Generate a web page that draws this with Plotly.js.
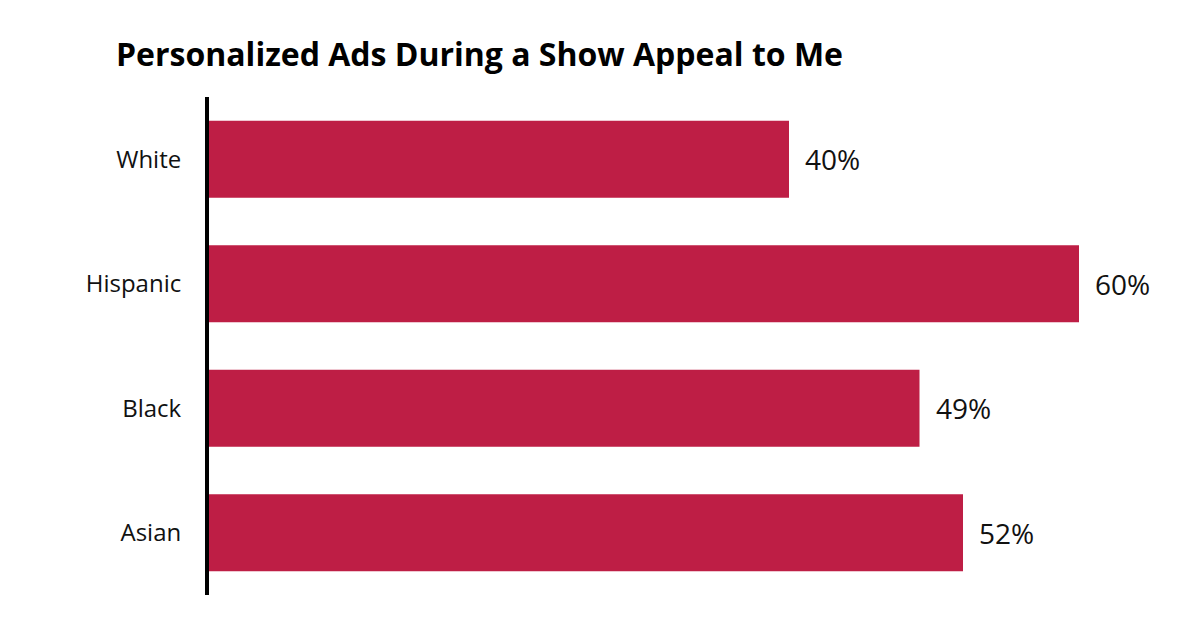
<!DOCTYPE html>
<html>
<head>
<meta charset="utf-8">
<script src="https://cdn.plot.ly/plotly-3.0.1.min.js"></script>
<style>html,body{margin:0;padding:0;background:#fff;}#chart{width:1200px;height:628px;}</style>
</head>
<body>
<div id="chart"></div>
<script>
var categories = ["White", "Hispanic", "Black", "Asian"];
var values = [40, 60, 49, 52];
var valueLabels = ["40%", "60%", "49%", "52%"];
var chartTitle = "Personalized Ads During a Show Appeal to Me";

var FONT = "Open Sans, Noto Sans, sans-serif";

var trace = {
  type: "bar",
  orientation: "h",
  y: categories,
  x: values,
  marker: {color: "#BE1E45"},
  hoverinfo: "skip"
};

var annotations = categories.map(function(c, i){
  return {
    x: values[i], y: c, xref: "x", yref: "y",
    text: valueLabels[i], showarrow: false,
    xanchor: "left", yanchor: "middle", xshift: 14,
    font: {family: FONT, size: 28, color: "#111111"}
  };
});

var layout = {
  width: 1200, height: 628,
  paper_bgcolor: "#ffffff", plot_bgcolor: "#ffffff",
  margin: {l: 209, r: 0, t: 97, b: 33},
  bargap: 0.38,
  showlegend: false,
  title: {
    text: "<b>" + chartTitle + "</b>",
    xref: "container", yref: "container",
    x: 116/1200, xanchor: "left",
    y: 1 - 55/628, yanchor: "middle",
    font: {family: FONT, size: 32, color: "#000000"}
  },
  xaxis: {
    range: [0, 991/14.5],
    visible: false, fixedrange: true
  },
  yaxis: {
    autorange: "reversed",
    showline: true, linecolor: "#000000", linewidth: 4,
    showgrid: false, zeroline: false, ticks: "",
    ticklabelstandoff: 19,
    tickfont: {family: FONT, size: 24, color: "#111111"}
  },
  annotations: annotations
};

Plotly.newPlot("chart", [trace], layout, {staticPlot: true, displayModeBar: false});
</script>
</body>
</html>
